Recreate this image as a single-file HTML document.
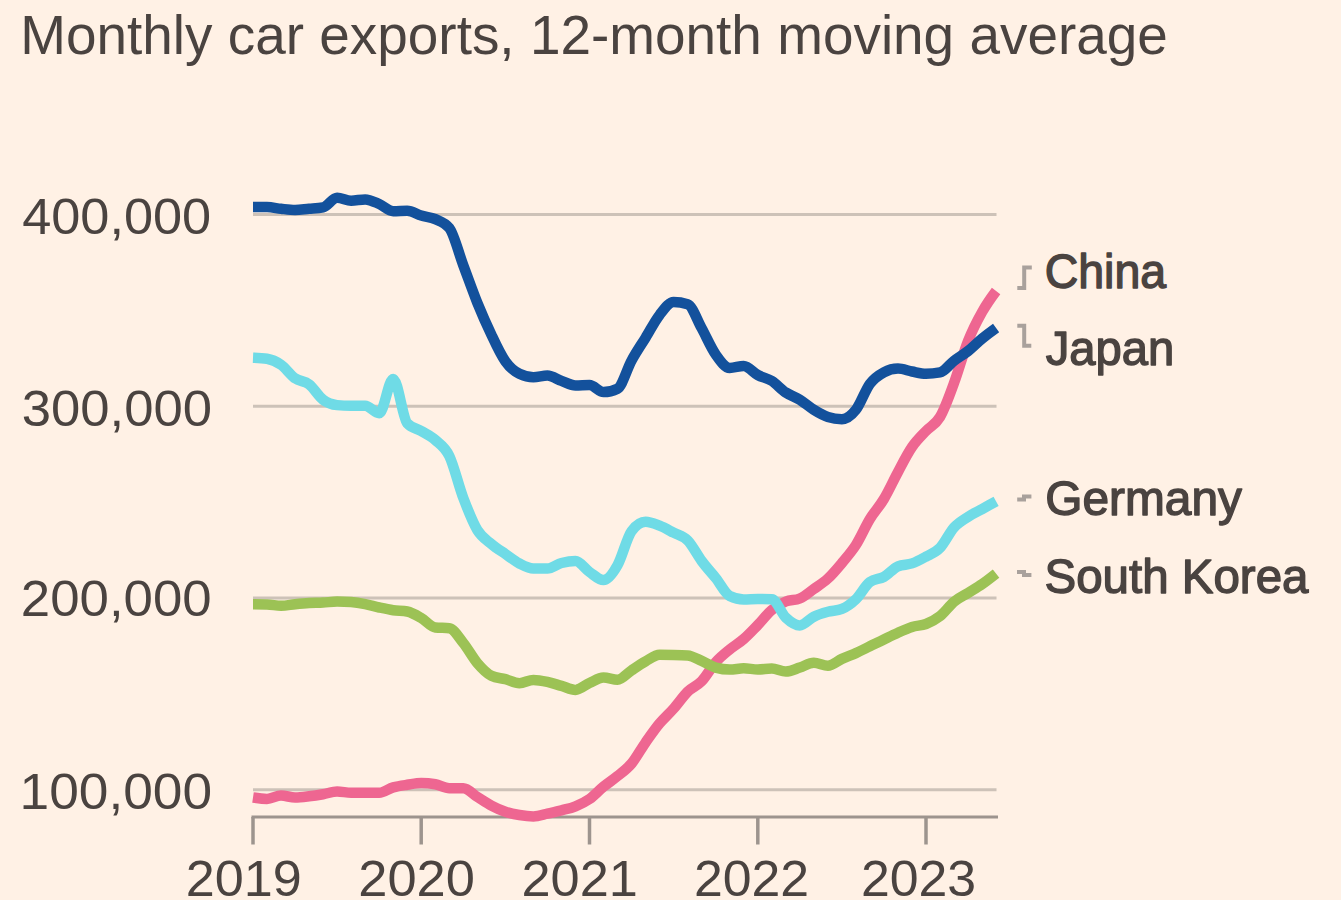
<!DOCTYPE html>
<html><head><meta charset="utf-8"><style>
html,body{margin:0;padding:0;background:#fff1e5;}
body{width:1341px;height:900px;overflow:hidden;}
svg{display:block;}
text{font-family:"Liberation Sans",sans-serif;fill:#4a4340;}
</style></head><body>
<svg width="1341" height="900" viewBox="0 0 1341 900">
<rect width="1341" height="900" fill="#fff1e5"/>
<text x="0" y="0" font-size="55" font-weight="normal" transform="matrix(0.9986,0,0,1,20.21,54.1)">Monthly car exports, 12-month moving average</text>
<line x1="253" y1="214.6" x2="996.5" y2="214.6" stroke="#cdc2b8" stroke-width="3"/>
<line x1="253" y1="406.3" x2="996.5" y2="406.3" stroke="#cdc2b8" stroke-width="3"/>
<line x1="253" y1="598.0" x2="996.5" y2="598.0" stroke="#cdc2b8" stroke-width="3"/>
<line x1="253" y1="789.7" x2="996.5" y2="789.7" stroke="#cdc2b8" stroke-width="3"/>
<line x1="251.5" y1="817" x2="998" y2="817" stroke="#9d948e" stroke-width="3"/>
<line x1="253.0" y1="817" x2="253.0" y2="844.5" stroke="#9d948e" stroke-width="3.5"/>
<line x1="421.2" y1="817" x2="421.2" y2="844.5" stroke="#9d948e" stroke-width="3.5"/>
<line x1="589.5" y1="817" x2="589.5" y2="844.5" stroke="#9d948e" stroke-width="3.5"/>
<line x1="757.8" y1="817" x2="757.8" y2="844.5" stroke="#9d948e" stroke-width="3.5"/>
<line x1="926.0" y1="817" x2="926.0" y2="844.5" stroke="#9d948e" stroke-width="3.5"/>
<g fill="none" stroke-width="10.5" stroke-linejoin="round" stroke-linecap="butt">
<path d="M253.0,797.5C257.7,798.2 262.3,798.9 267.0,798.9C271.7,798.9 276.4,795.5 281.0,795.5C285.7,795.5 290.4,797.5 295.1,797.5C299.7,797.5 304.4,796.8 309.1,796.2C313.8,795.7 318.4,795.0 323.1,794.2C327.8,793.4 332.5,791.5 337.1,791.5C341.8,791.5 346.5,792.8 351.1,792.8C355.8,792.8 360.5,792.8 365.2,792.8C369.8,792.8 374.5,792.8 379.2,792.8C383.9,792.8 388.5,788.7 393.2,787.4C397.9,786.1 402.6,785.5 407.2,784.8C411.9,784.1 416.6,783.0 421.2,783.0C425.9,783.0 430.6,783.4 435.3,784.2C439.9,785.0 444.6,788.2 449.3,788.2C454.0,788.2 458.6,788.2 463.3,788.2C468.0,788.2 472.7,794.0 477.3,796.9C482.0,799.8 486.7,803.1 491.4,805.6C496.0,808.1 500.7,810.1 505.4,811.7C510.0,813.3 514.7,814.2 519.4,815.0C524.1,815.8 528.7,816.4 533.4,816.4C538.1,816.4 542.8,814.7 547.4,813.7C552.1,812.7 556.8,811.5 561.5,810.3C566.1,809.1 570.8,808.2 575.5,806.3C580.2,804.4 584.8,802.3 589.5,799.0C594.2,795.7 598.8,790.5 603.5,786.7C608.2,782.9 612.9,780.0 617.5,776.1C622.2,772.2 626.9,769.1 631.6,763.5C636.2,757.9 640.9,749.1 645.6,742.4C650.3,735.7 654.9,729.0 659.6,723.4C664.3,717.8 669.0,713.9 673.6,708.6C678.3,703.3 683.0,696.3 687.6,691.7C692.3,687.1 697.0,686.1 701.7,681.2C706.3,676.3 711.0,667.5 715.7,662.2C720.4,656.9 725.0,653.4 729.7,649.5C734.4,645.6 739.1,643.1 743.7,639.0C748.4,634.9 753.1,629.8 757.8,625.0C762.4,620.2 767.1,613.9 771.8,610.0C776.4,606.1 781.1,603.4 785.8,601.5C790.5,599.6 795.1,600.5 799.8,598.5C804.5,596.5 809.2,592.3 813.8,589.0C818.5,585.7 823.2,582.8 827.9,578.5C832.5,574.2 837.2,568.6 841.9,563.0C846.5,557.4 851.2,552.3 855.9,545.0C860.6,537.7 865.2,526.7 869.9,519.0C874.6,511.3 879.3,506.8 883.9,499.0C888.6,491.2 893.3,480.7 898.0,472.0C902.6,463.3 907.3,453.8 912.0,447.0C916.7,440.2 921.3,436.0 926.0,431.0C930.7,426.0 935.3,425.0 940.0,417.0C944.7,409.0 949.4,395.7 954.0,383.0C958.7,370.3 963.4,352.8 968.1,341.0C972.7,329.2 977.4,320.3 982.1,312.0C986.8,303.7 991.4,297.3 996.1,291.0" stroke="#ee6691"/>
<path d="M253.0,604.2C257.7,604.2 262.3,604.3 267.0,604.4C271.7,604.5 276.4,605.8 281.0,605.8C285.7,605.8 290.4,604.7 295.1,604.2C299.7,603.8 304.4,603.4 309.1,603.1C313.8,602.8 318.4,602.9 323.1,602.6C327.8,602.3 332.5,601.5 337.1,601.5C341.8,601.5 346.5,601.7 351.1,602.1C355.8,602.5 360.5,603.3 365.2,604.2C369.8,605.1 374.5,606.5 379.2,607.5C383.9,608.5 388.5,609.5 393.2,610.2C397.9,610.9 402.6,610.6 407.2,611.5C411.9,612.4 416.6,615.3 421.2,618.0C425.9,620.7 430.6,627.0 435.3,627.5C439.9,628.0 444.6,627.7 449.3,628.2C454.0,628.7 458.6,637.2 463.3,643.0C468.0,648.8 472.7,657.6 477.3,663.1C482.0,668.6 486.7,673.5 491.4,675.8C496.0,678.1 500.7,678.0 505.4,679.2C510.0,680.4 514.7,683.2 519.4,683.2C524.1,683.2 528.7,679.9 533.4,679.9C538.1,679.9 542.8,680.9 547.4,681.9C552.1,682.9 556.8,684.6 561.5,685.9C566.1,687.2 570.8,689.9 575.5,689.9C580.2,689.9 584.8,685.1 589.5,683.0C594.2,680.9 598.8,677.5 603.5,677.5C608.2,677.5 612.9,679.7 617.5,679.7C622.2,679.7 626.9,673.4 631.6,670.3C636.2,667.2 640.9,663.9 645.6,661.3C650.3,658.7 654.9,654.8 659.6,654.8C664.3,654.8 669.0,654.9 673.6,655.0C678.3,655.1 683.0,655.2 687.6,655.5C692.3,655.8 697.0,658.9 701.7,660.9C706.3,662.9 711.0,666.3 715.7,667.6C720.4,668.9 725.0,669.6 729.7,669.6C734.4,669.6 739.1,668.3 743.7,668.3C748.4,668.3 753.1,669.5 757.8,669.5C762.4,669.5 767.1,668.6 771.8,668.6C776.4,668.6 781.1,671.5 785.8,671.5C790.5,671.5 795.1,669.1 799.8,667.6C804.5,666.1 809.2,662.8 813.8,662.8C818.5,662.8 823.2,665.7 827.9,665.7C832.5,665.7 837.2,661.0 841.9,658.9C846.5,656.8 851.2,655.2 855.9,653.1C860.6,651.0 865.2,648.6 869.9,646.3C874.6,644.0 879.3,641.8 883.9,639.5C888.6,637.2 893.3,634.8 898.0,632.7C902.6,630.6 907.3,628.4 912.0,626.9C916.7,625.4 921.3,625.8 926.0,624.0C930.7,622.2 935.3,619.9 940.0,616.2C944.7,612.5 949.4,605.6 954.0,601.7C958.7,597.8 963.4,595.9 968.1,593.0C972.7,590.1 977.4,587.4 982.1,584.2C986.8,581.0 991.4,577.3 996.1,573.6" stroke="#9cc255"/>
<path d="M253.0,357.7C257.7,357.9 262.3,358.1 267.0,358.8C271.7,359.5 276.4,361.6 281.0,364.8C285.7,368.1 290.4,375.1 295.1,378.3C299.7,381.6 304.4,380.7 309.1,384.3C313.8,387.9 318.4,396.2 323.1,399.7C327.8,403.2 332.5,404.6 337.1,405.1C341.8,405.6 346.5,405.8 351.1,405.8C355.8,405.8 360.5,405.8 365.2,405.8C369.8,405.8 374.5,413.2 379.2,413.2C383.9,413.2 388.5,379.0 393.2,379.0C397.9,379.0 402.6,418.0 407.2,423.2C411.9,428.4 416.6,428.2 421.2,431.0C425.9,433.8 430.6,435.8 435.3,440.0C439.9,444.2 444.6,446.3 449.3,456.0C454.0,465.7 458.6,485.7 463.3,498.0C468.0,510.3 472.7,522.3 477.3,530.0C482.0,537.7 486.7,540.0 491.4,544.0C496.0,548.0 500.7,550.8 505.4,554.0C510.0,557.2 514.7,561.1 519.4,563.5C524.1,565.9 528.7,568.5 533.4,568.5C538.1,568.5 542.8,568.5 547.4,568.5C552.1,568.5 556.8,564.2 561.5,563.0C566.1,561.8 570.8,561.0 575.5,561.0C580.2,561.0 584.8,568.8 589.5,572.0C594.2,575.2 598.8,580.1 603.5,580.1C608.2,580.1 612.9,573.5 617.5,565.3C622.2,557.1 626.9,537.3 631.6,531.1C636.2,524.9 640.9,521.8 645.6,521.8C650.3,521.8 654.9,523.9 659.6,525.7C664.3,527.5 669.0,530.3 673.6,532.7C678.3,535.2 683.0,535.7 687.6,540.4C692.3,545.1 697.0,554.7 701.7,561.0C706.3,567.3 711.0,572.2 715.7,578.0C720.4,583.8 725.0,593.7 729.7,596.0C734.4,598.3 739.1,599.5 743.7,599.5C748.4,599.5 753.1,599.0 757.8,599.0C762.4,599.0 767.1,599.1 771.8,599.2C776.4,599.3 781.1,613.2 785.8,617.6C790.5,622.0 795.1,625.4 799.8,625.4C804.5,625.4 809.2,619.0 813.8,616.7C818.5,614.4 823.2,613.1 827.9,611.8C832.5,610.5 837.2,610.8 841.9,608.9C846.5,607.0 851.2,603.7 855.9,599.2C860.6,594.7 865.2,585.4 869.9,582.0C874.6,578.6 879.3,579.5 883.9,576.9C888.6,574.3 893.3,568.2 898.0,566.3C902.6,564.4 907.3,565.0 912.0,563.4C916.7,561.8 921.3,559.2 926.0,556.6C930.7,554.0 935.3,552.8 940.0,547.9C944.7,543.0 949.4,532.7 954.0,527.5C958.7,522.3 963.4,519.9 968.1,516.8C972.7,513.7 977.4,511.7 982.1,509.1C986.8,506.5 991.4,503.9 996.1,501.3" stroke="#6fdbe6"/>
<path d="M253.0,207.1C257.7,207.1 262.3,207.1 267.0,207.1C271.7,207.1 276.4,208.3 281.0,208.8C285.7,209.3 290.4,210.0 295.1,210.0C299.7,210.0 304.4,209.2 309.1,208.8C313.8,208.4 318.4,208.3 323.1,207.4C327.8,206.5 332.5,197.8 337.1,197.8C341.8,197.8 346.5,200.7 351.1,200.7C355.8,200.7 360.5,199.4 365.2,199.4C369.8,199.4 374.5,202.0 379.2,204.0C383.9,206.0 388.5,211.2 393.2,211.2C397.9,211.2 402.6,210.8 407.2,210.8C411.9,210.8 416.6,214.2 421.2,215.6C425.9,217.0 430.6,217.0 435.3,219.1C439.9,221.2 444.6,222.1 449.3,228.0C454.0,233.9 458.6,252.9 463.3,265.3C468.0,277.8 472.7,291.1 477.3,302.7C482.0,314.3 486.7,324.9 491.4,334.7C496.0,344.5 500.7,354.8 505.4,361.3C510.0,367.8 514.7,371.5 519.4,373.8C524.1,376.1 528.7,377.3 533.4,377.3C538.1,377.3 542.8,375.6 547.4,375.6C552.1,375.6 556.8,379.2 561.5,380.9C566.1,382.5 570.8,385.5 575.5,385.5C580.2,385.5 584.8,385.0 589.5,385.0C594.2,385.0 598.8,392.1 603.5,392.1C608.2,392.1 612.9,391.0 617.5,388.7C622.2,386.4 626.9,369.0 631.6,360.5C636.2,352.0 640.9,345.3 645.6,337.7C650.3,330.1 654.9,320.8 659.6,314.9C664.3,309.0 669.0,302.1 673.6,302.1C678.3,302.1 683.0,302.8 687.6,304.2C692.3,305.6 697.0,319.9 701.7,328.3C706.3,336.7 711.0,347.9 715.7,354.5C720.4,361.1 725.0,367.9 729.7,367.9C734.4,367.9 739.1,365.9 743.7,365.9C748.4,365.9 753.1,372.5 757.8,375.0C762.4,377.5 767.1,378.0 771.8,380.9C776.4,383.8 781.1,389.4 785.8,392.5C790.5,395.6 795.1,396.8 799.8,399.7C804.5,402.6 809.2,406.9 813.8,409.8C818.5,412.7 823.2,415.5 827.9,417.0C832.5,418.5 837.2,419.2 841.9,419.2C846.5,419.2 851.2,415.7 855.9,409.8C860.6,403.9 865.2,390.1 869.9,383.8C874.6,377.6 879.3,374.8 883.9,372.3C888.6,369.8 893.3,368.6 898.0,368.6C902.6,368.6 907.3,370.6 912.0,371.5C916.7,372.4 921.3,373.8 926.0,373.8C930.7,373.8 935.3,373.3 940.0,372.4C944.7,371.5 949.4,364.4 954.0,360.8C958.7,357.2 963.4,354.7 968.1,351.0C972.7,347.3 977.4,342.4 982.1,338.6C986.8,334.8 991.4,331.4 996.1,328.0" stroke="#13519c"/>
</g>
<g fill="none" stroke="#a9a19c" stroke-width="4" stroke-linejoin="miter">
<path d="M1017.3,288.1H1024.2V267.6H1031.8"/>
<path d="M1017.3,325.7H1024.2V345.8H1031.3"/>
<path d="M1017.2,499.5H1024V496.6H1031.4"/>
<path d="M1017,571.9H1024V575H1031.4"/>
</g>
<text x="0" y="0" font-size="50" font-weight="normal" transform="matrix(1.0461,0,0,1,22.16,234.0)">400,000</text>
<text x="0" y="0" font-size="50" font-weight="normal" transform="matrix(1.0534,0,0,1,21.69,425.9)">300,000</text>
<text x="0" y="0" font-size="50" font-weight="normal" transform="matrix(1.0557,0,0,1,20.86,616.3)">200,000</text>
<text x="0" y="0" font-size="50" font-weight="normal" transform="matrix(1.0655,0,0,1,19.53,809.0)">100,000</text>
<text x="0" y="0" font-size="50" font-weight="normal" transform="matrix(1.0425,0,0,1,185.87,896.0)">2019</text>
<text x="0" y="0" font-size="50" font-weight="normal" transform="matrix(1.0477,0,0,1,358.29,896.0)">2020</text>
<text x="0" y="0" font-size="50" font-weight="normal" transform="matrix(1.0462,0,0,1,521.48,896.0)">2021</text>
<text x="0" y="0" font-size="50" font-weight="normal" transform="matrix(1.0358,0,0,1,693.91,896.0)">2022</text>
<text x="0" y="0" font-size="50" font-weight="normal" transform="matrix(1.0368,0,0,1,860.91,896.0)">2023</text>
<text x="0" y="0" font-size="49" font-weight="normal" stroke="#4a4340" stroke-width="1.4" stroke-linejoin="round" transform="matrix(0.9484,0,0,1,1044.71,287.5)">China</text>
<text x="0" y="0" font-size="49" font-weight="normal" stroke="#4a4340" stroke-width="1.4" stroke-linejoin="round" transform="matrix(0.9631,0,0,1,1045.63,365.4)">Japan</text>
<text x="0" y="0" font-size="49" font-weight="normal" stroke="#4a4340" stroke-width="1.4" stroke-linejoin="round" transform="matrix(0.9770,0,0,1,1045.23,515.4)">Germany</text>
<text x="0" y="0" font-size="49" font-weight="normal" stroke="#4a4340" stroke-width="1.4" stroke-linejoin="round" transform="matrix(0.9694,0,0,1,1044.47,593.4)">South Korea</text>
</svg>
</body></html>
